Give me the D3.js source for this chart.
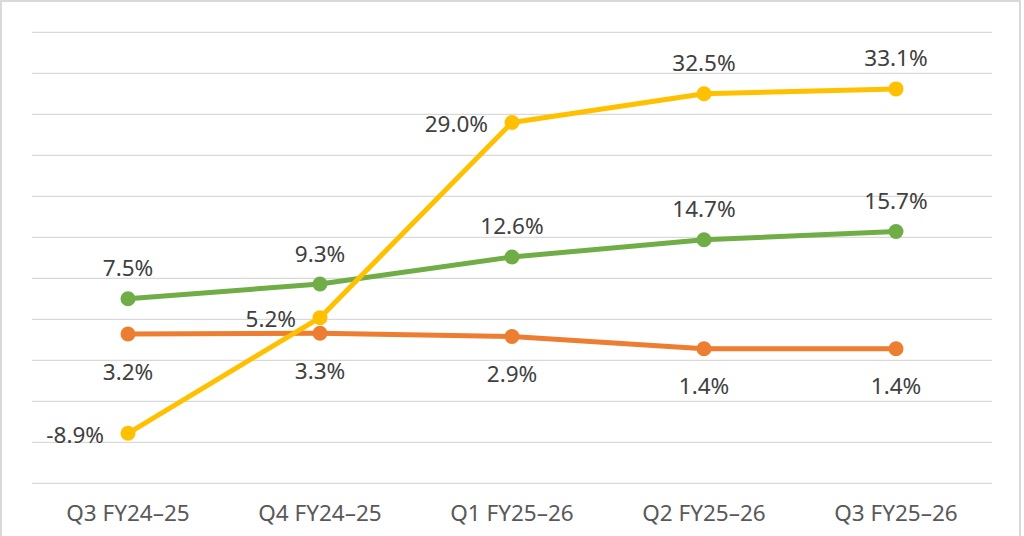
<!DOCTYPE html>
<html>
<head>
<meta charset="utf-8">
<script src="https://cdn.jsdelivr.net/npm/d3@7"></script>
<style>
  body { margin: 0; background: #fff; }
  svg text { font-family: "Noto Sans", sans-serif; }
</style>
</head>
<body>
<div id="chart"></div>
<script>
const categories = ["Q3 FY24–25", "Q4 FY24–25", "Q1 FY25–26", "Q2 FY25–26", "Q3 FY25–26"];
const greenValues = [7.5, 9.3, 12.6, 14.7, 15.7];
const orangeValues = [3.2, 3.3, 2.9, 1.4, 1.4];
const yellowValues = [-8.9, 5.2, 29.0, 32.5, 33.1];
const yTicks = [-15, -10, -5, 0, 5, 10, 15, 20, 25, 30, 35, 40];

let chart = { width: 1024, height: 536 };

let series = [
  { values: greenValues, color: "#70ad47", labelPos: ["above", "above", "above", "above", "above"] },
  { values: orangeValues, color: "#ed7d31", labelPos: ["below", "below", "below", "below", "below"] },
  { values: yellowValues, color: "#ffc000", labelPos: ["left", "left", "left", "above", "above"] }
];

let svg = d3.select("#chart").append("svg")
  .attr("width", chart.width)
  .attr("height", chart.height);

// chart border
svg.append("rect")
  .attr("x", 1).attr("y", 1)
  .attr("width", 1019).attr("height", 545)
  .attr("fill", "none")
  .attr("stroke", "#d9d9d9")
  .attr("stroke-width", 2);

let x = d3.scaleBand().domain(categories).range([32, 992]);
let y = d3.scaleLinear().domain([-15, 40]).range([483.3, 32.3]);

// gridlines
svg.append("g")
  .selectAll("line")
  .data(yTicks)
  .enter()
  .append("line")
  .attr("x1", 32).attr("x2", 992)
  .attr("y1", d => y(d)).attr("y2", d => y(d))
  .attr("stroke", "#d9d9d9")
  .attr("stroke-width", 1.3);

// category axis
let xAxis = svg.append("g")
  .attr("transform", `translate(0,${y(-15)})`)
  .call(d3.axisBottom(x).tickSize(0).tickPadding(22));
xAxis.select(".domain").remove();
xAxis.selectAll("text")
  .attr("font-size", 22.5)
  .attr("fill", "#595959");

let cx = d => x(d) + x.bandwidth() / 2;

let line = d3.line()
  .x((d, i) => cx(categories[i]))
  .y(d => y(d));

series.forEach(s => {
  svg.append("path")
    .datum(s.values)
    .attr("fill", "none")
    .attr("stroke", s.color)
    .attr("stroke-width", 5)
    .attr("stroke-linejoin", "round")
    .attr("d", line);
});

series.forEach(s => {
  svg.append("g")
    .selectAll("circle")
    .data(s.values)
    .enter()
    .append("circle")
    .attr("cx", (d, i) => cx(categories[i]))
    .attr("cy", d => y(d))
    .attr("r", 7.5)
    .attr("fill", s.color);
});

// data labels
series.forEach(s => {
  svg.append("g")
    .selectAll("text")
    .data(s.values)
    .enter()
    .append("text")
    .attr("x", (d, i) => {
      let px = cx(categories[i]);
      return s.labelPos[i] === "left" ? px - 24 : px;
    })
    .attr("y", (d, i) => {
      let py = y(d);
      if (s.labelPos[i] === "above") return py - 31;
      if (s.labelPos[i] === "below") return py + 37;
      return py + 1;
    })
    .attr("text-anchor", (d, i) => s.labelPos[i] === "left" ? "end" : "middle")
    .attr("dominant-baseline", "central")
    .attr("font-size", 22.5)
    .attr("fill", "#404040")
    .text(d => d.toFixed(1) + "%");
});
</script>
</body>
</html>
